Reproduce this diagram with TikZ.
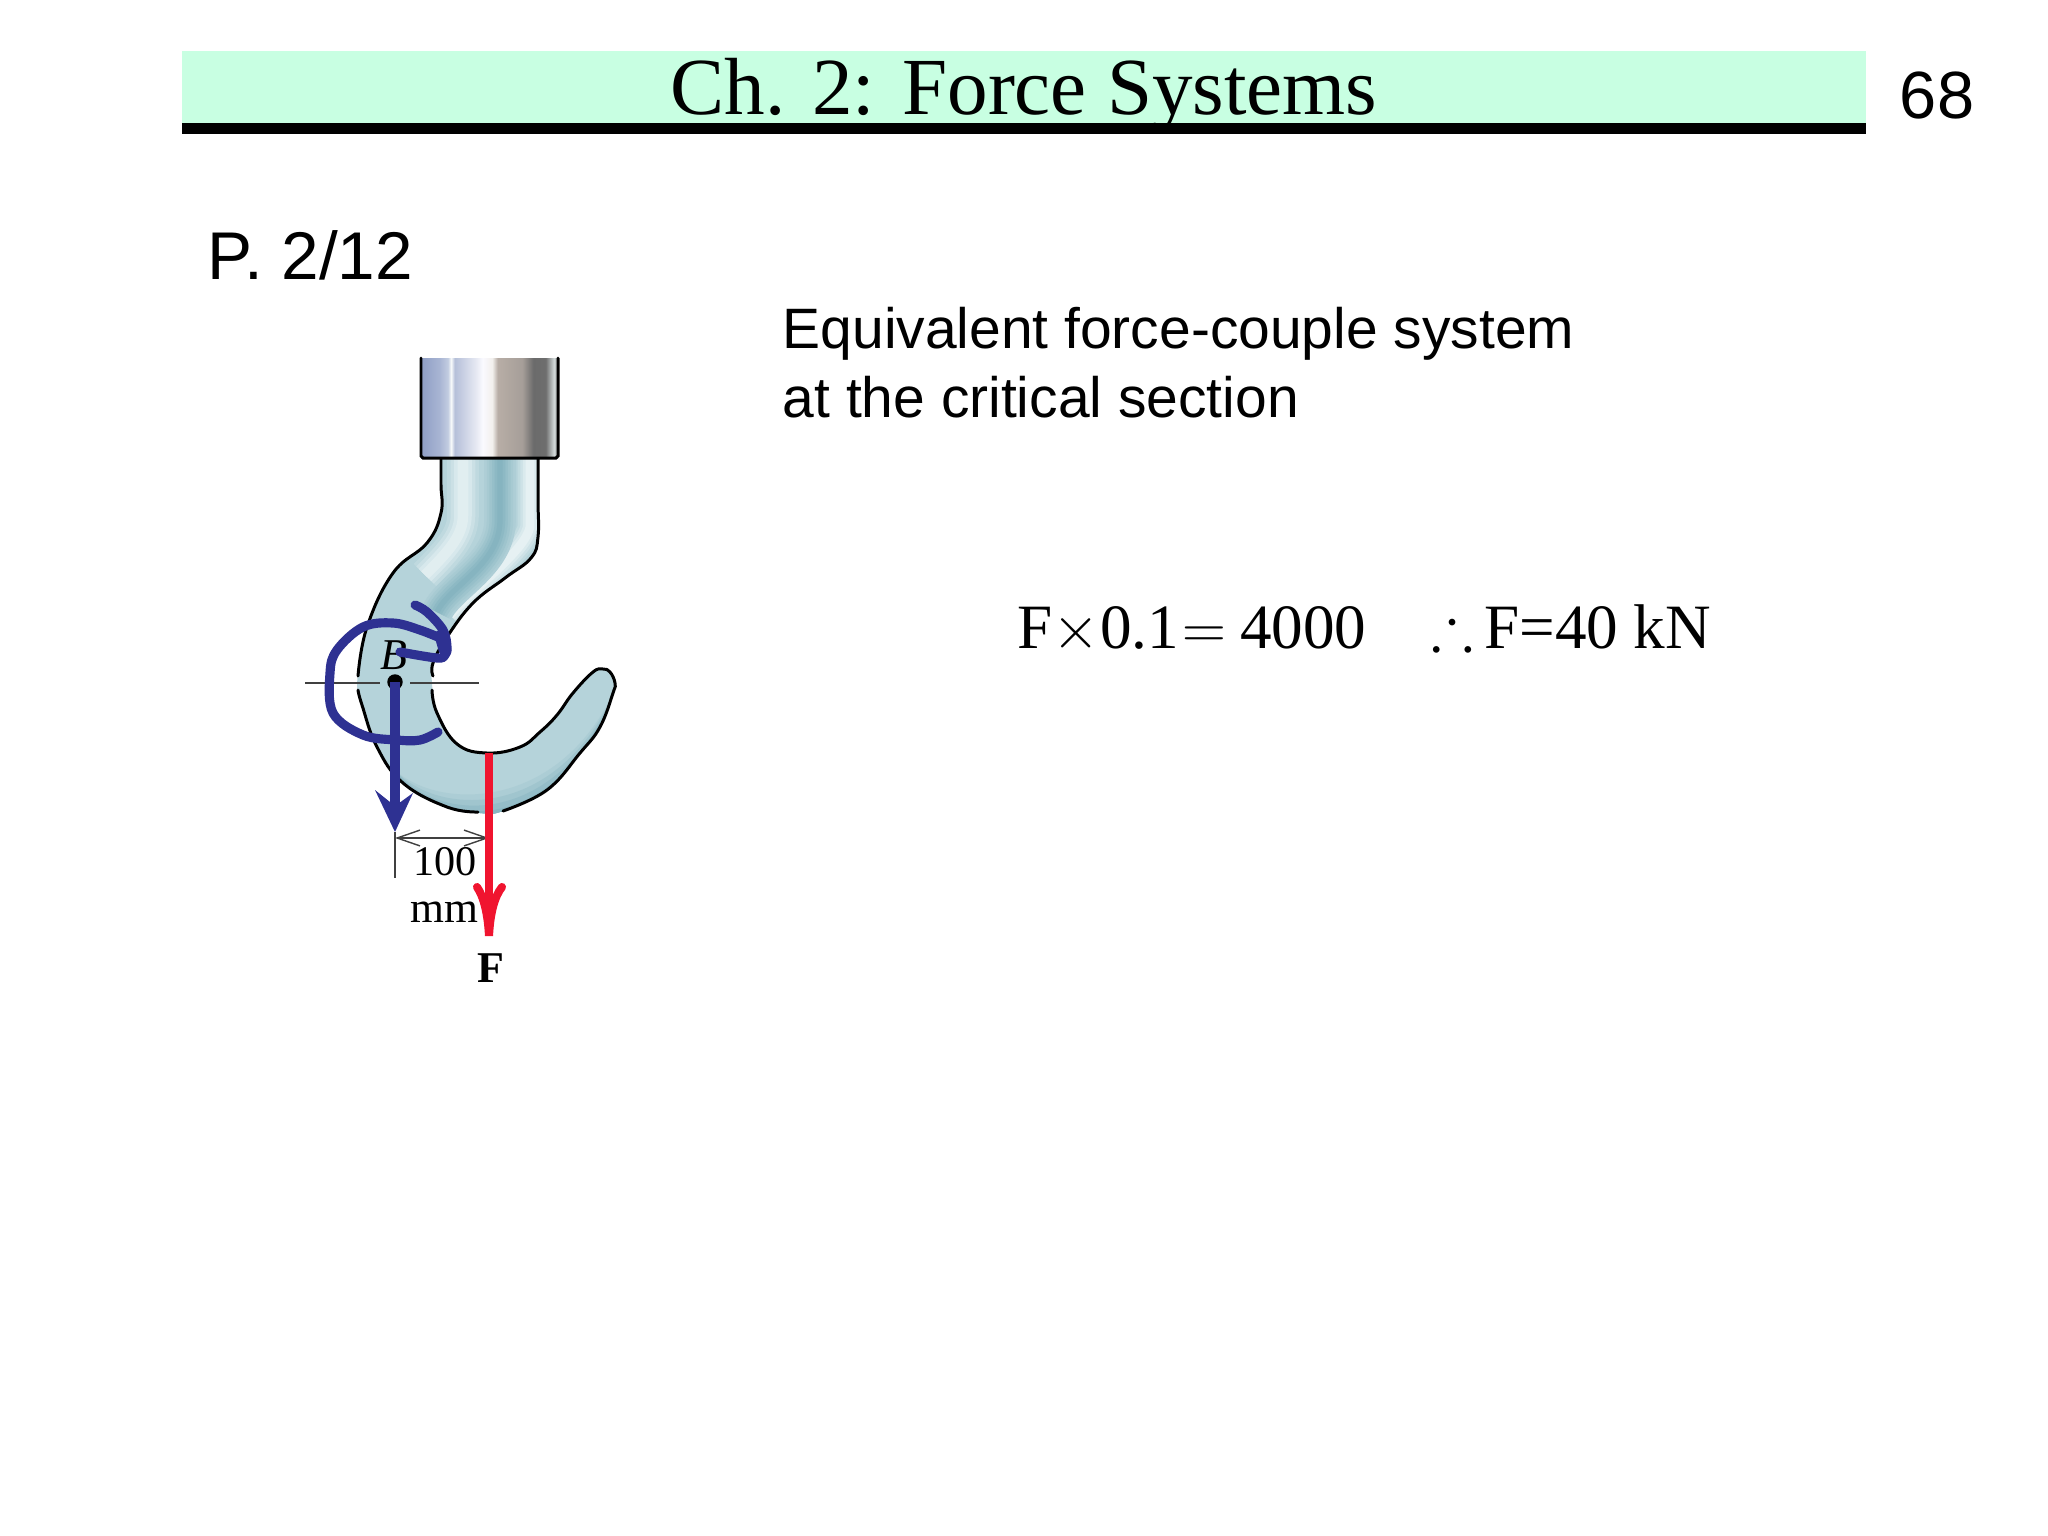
\documentclass[tikz,border=0pt]{standalone}
\usepackage{amsmath,amssymb}
\usepackage{fontspec}
\setmainfont{Liberation Serif}
\newfontfamily\arialfont{Liberation Sans}
\usetikzlibrary{arrows.meta}
\definecolor{barcolor}{HTML}{C8FFE2}
\definecolor{hookbase}{HTML}{B5D3DA}
\definecolor{hookdark}{HTML}{86B4C0}
\definecolor{hooklight}{HTML}{E6F1F3}
\definecolor{penblue}{HTML}{2E3192}
\definecolor{penred}{HTML}{F0142F}
\pgfdeclarehorizontalshading{cylindershade}{100bp}{
	rgb(0bp)=(.56,.62,.77); rgb(25bp)=(.56,.62,.77); rgb(31.8bp)=(.66,.71,.83);
	rgb(34.8bp)=(.76,.80,.88); rgb(36bp)=(.97,.98,.98); rgb(37.3bp)=(.71,.75,.85);
	rgb(45bp)=(.90,.91,.95); rgb(47.5bp)=(.98,.98,1); rgb(51bp)=(.95,.94,.93);
	rgb(53bp)=(.72,.68,.65); rgb(62bp)=(.65,.62,.60); rgb(66bp)=(.42,.42,.42);
	rgb(70.5bp)=(.43,.43,.43); rgb(73.5bp)=(.82,.85,.85); rgb(75bp)=(.6,.62,.62);
	rgb(100bp)=(.6,.62,.62)}
\newcommand{\hookoutline}{plot[smooth,tension=0.7] coordinates {(441,450) (441,485) (441,513) (427,543) (393,573) (367,627) (358,673) (360,700) (377,747) (403,783) (447,807) (480,813) (503,811) (547,790) (580,753) (600,727) (613,693) (615,683) (610,672) (603,669) (593,672) (573,693) (557,715) (540,732) (520,747) (487,753) (457,744) (437,713) (432,683) (433,663) (447,637) (473,603) (505,578) (531,558) (538,537) (538,500) (538,450)} -- cycle}
\tikzset{
	hookedge/.style={black,line width=0.85pt,line cap=round},
	thinline/.style={black!75,line width=0.4pt},
	penstroke/.style={penblue,line width=2.6pt,line cap=round,line join=round},
	redstroke/.style={penred,line width=2.3pt,line cap=round},
	titletext/.style={font=\fontsize{23.05}{28}\selectfont,anchor=base},
	sanstext/.style={font=\arialfont\fontsize{16.2}{19.4}\selectfont,anchor=base west},
	eqtext/.style={font=\fontsize{17.95}{22}\selectfont,anchor=base west},
	labeltext/.style={inner sep=0pt}
}
\begin{document}
\begin{tikzpicture}[x=0.01cm,y=-0.01cm]
	\useasboundingbox (0,0) rectangle (2048,1536);
	% title bar
	\fill[barcolor] (182,51) rectangle (1866,124);
	\fill[black] (182,123) rectangle (1866,134);
	\node[titletext] (title) at (1024,114) {Ch. 2: Force Systems};
	\node[font=\arialfont\fontsize{19}{23}\selectfont,anchor=base] (pagenum) at (1937,118) {68};
	\node[font=\arialfont\fontsize{19.2}{22}\selectfont,anchor=base west,inner sep=0pt] (problem) at (207,279) {P. 2/12};
	% text on the right
	\node[sanstext,inner sep=0pt] (line1) at (782,348) {Equivalent force-couple system};
	\node[sanstext,inner sep=0pt] (line2) at (782,417) {at the critical section};
	\node[eqtext,inner sep=0pt] (eqleft) at (1017,648) {F$\times$0.1$\kern1pt=\kern4pt$4000};
	\node[eqtext,inner sep=0pt] (eqright) at (1431,648) {$\therefore$\kern-1.5pt{} F=40 kN};
	% hook body
	\fill[hookbase] \hookoutline;
	\begin{scope}
		\clip \hookoutline;
		\foreach \w/\c in {9/20,7/45,5/70,3/90}
			\draw[hooklight!\c!hookbase,line width=\w pt] (463,445) -- (463,515) .. controls (463,535) and (450,550) .. (425,575);
		\foreach \w/\c in {7/25,5.5/50,4/75,2.5/100}
			\draw[hooklight!\c!hookbase,line width=\w pt] (530,445) -- (530,527) .. controls (525,550) and (480,583) .. (450,615);
		\foreach \w/\c in {9/15,7.5/30,6/50,4.5/65,3/85,1.5/100}
			\draw[hookdark!\c!hookbase,line width=\w pt] (500,445) -- (500,520) .. controls (500,565) and (450,585) .. (437,612);
		\foreach \y/\c in {812/20,820/45,828/70,836/95}
			\fill[hookdark!\c!hookbase] (395,770) .. controls (440,\y) and (570,\y) .. (622,672) -- (640,830) -- (380,830) -- cycle;
	\end{scope}
	% hook outline pieces
	\draw[hookedge] plot[smooth,tension=0.7] coordinates {(441,458) (441,485) (441,513) (427,543) (393,573) (367,627) (358,676)};
	\draw[hookedge] plot[smooth,tension=0.7] coordinates {(358,690) (362,705) (377,747) (403,783) (447,807) (478,812)};
	\draw[hookedge] plot[smooth,tension=0.7] coordinates {(503,811) (547,790) (580,753) (600,727) (613,693) (615,683) (610,672) (603,669) (593,672) (573,693) (557,715) (540,732) (520,747) (487,753) (457,744) (437,713) (432,690)};
	\draw[hookedge] plot[smooth,tension=0.7] coordinates {(433,676) (433,663) (447,637) (473,603) (505,578) (531,558) (538,537) (538,500) (538,458)};
	% cylinder
	\shade[shading=cylindershade] (421,358) rectangle (558,458);
	\draw[hookedge] (421,358) -- (421,456) -- (423,458) -- (556,458) -- (558,456) -- (558,358);
	% section line and point B
	\coordinate (B) at (395,682);
	\coordinate (secleft) at (305,683);
	\coordinate (secright) at (479,683);
	\draw[thinline] (secleft) -- (380,683);
	\draw[thinline] (410,683) -- (secright);
	\fill[black] (B) circle (2.2pt);
	\node[font=\itshape\fontsize{12.5}{14}\selectfont,inner sep=0pt] (Blabel) at (394,655) {B};
	% dimension
	\coordinate (dimleft) at (395,838);
	\coordinate (dimright) at (489,838);
	\draw[thinline] (395,832) -- (395,878);
	\draw[thinline,{Straight Barb[length=6.5pt,width=4.5pt]}-{Straight Barb[length=6.5pt,width=4.5pt]}] (dimleft) -- (dimright);
	\node[labeltext,font=\fontsize{12}{14}\selectfont] (dimval) at (445,862) {100};
	\node[labeltext,font=\fontsize{12.4}{14}\selectfont] (dimunit) at (444,912) {mm};
	% red force
	\coordinate (Ftop) at (489,753);
	\coordinate (Ftip) at (489,936);
	\draw[redstroke,line cap=butt] (Ftop) -- (Ftip);
	\draw[redstroke] (477,887) .. controls (484,897) and (488,915) .. (Ftip) .. controls (490,915) and (494,897) .. (502,887);
	\node[font=\bfseries\fontsize{12.5}{15}\selectfont,inner sep=0pt] (Flabel) at (491,968) {F};
	% blue couple and force
	\coordinate (Btip) at (395,832);
	\draw[penstroke,line cap=butt] (B) -- (395,808);
	\fill[penblue] (Btip) -- (375,790) -- (395,806) -- (413,793) -- cycle;
	\draw[penstroke] plot[smooth,tension=0.6] coordinates {(415,605) (427,612) (443,630) (447,647) (445,655) (437,658) (400,652)};
	\draw[penstroke,line width=3.6pt] (441,636) -- (445,650);
	\draw[penstroke] plot[smooth,tension=0.6] coordinates {(445,640) (420,630) (393,623) (363,627) (337,650) (330,673) (333,713) (363,735) (397,740) (420,740) (438,732)};
\end{tikzpicture}
\end{document}
